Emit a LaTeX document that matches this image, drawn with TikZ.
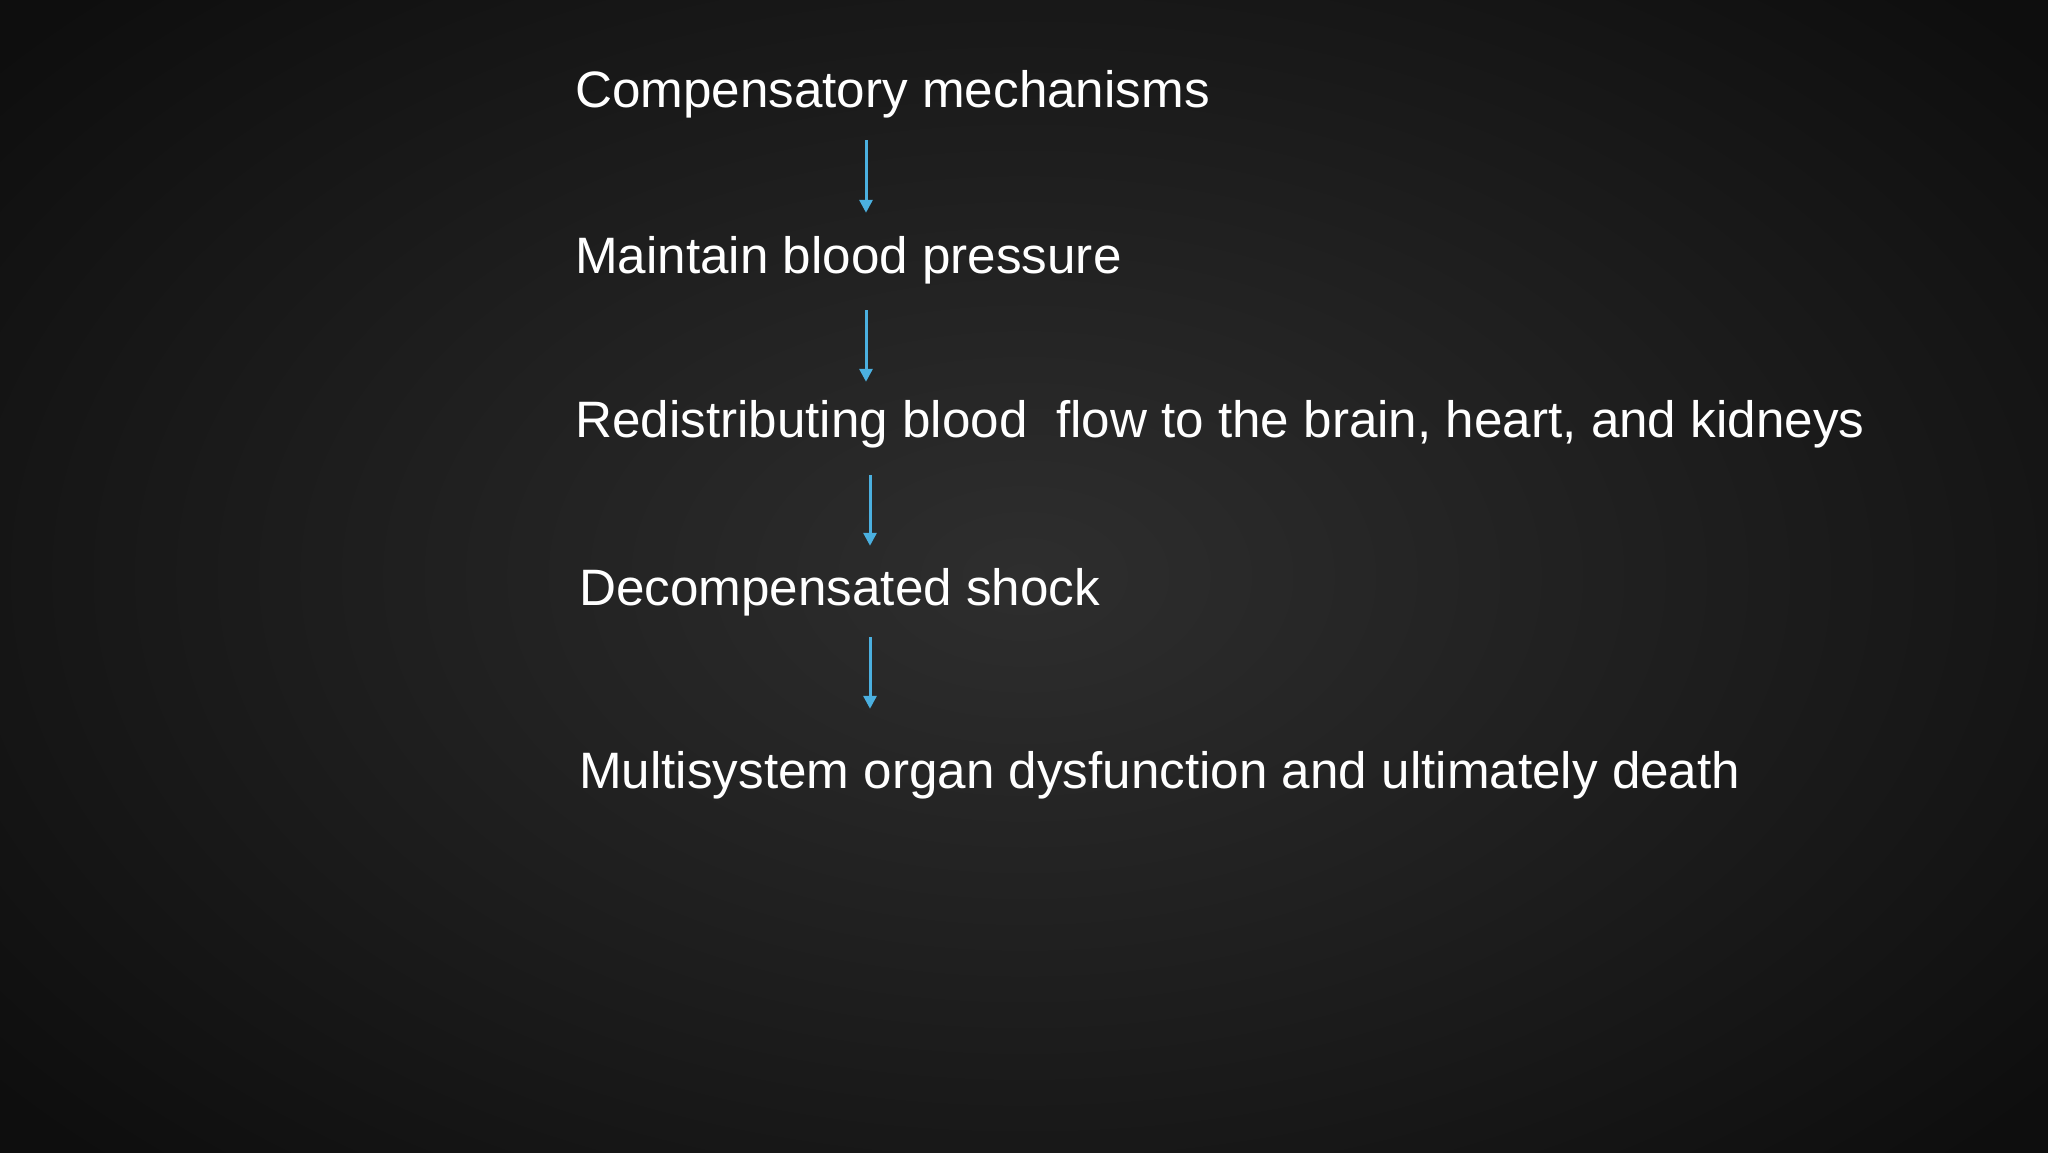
\documentclass[tikz,border=0pt]{standalone}
\usepackage{fontspec}
\setmainfont{Liberation Sans}
\usetikzlibrary{arrows.meta}
\definecolor{boardmid}{HTML}{2E2E2E}
\definecolor{boardedge}{HTML}{0E0E0E}
\definecolor{arrowblue}{HTML}{4BB0E0}
\tikzset{
  steptext/.style={anchor=base west, inner sep=0pt, text height=37pt, text depth=11pt,
    text=white, font=\fontsize{51.2}{60}\selectfont},
  flowarrow/.style={draw=arrowblue, line width=3pt, -{Triangle[width=13pt,length=13pt]}}
}
\begin{document}
\begin{tikzpicture}[x=1pt,y=-1pt]
\useasboundingbox (0,0) rectangle (2048,1152);
\fill[boardedge] (0,0) rectangle (2048,1152);
\shade[inner color=boardmid, outer color=boardedge] (-300,-250) rectangle (2348,1402);
\node[steptext] (L1) at (575,107) {Compensatory mechanisms};
\node[steptext] (L2) at (575,273) {Maintain blood pressure};
\node[steptext] (L3) at (575,437) {Redistributing blood\ \ flow to the brain, heart, and kidneys};
\node[steptext] (L4) at (579,605) {Decompensated shock};
\node[steptext] (L5) at (579,788) {Multisystem organ dysfunction and ultimately death};
\coordinate (ax1) at (866,0);
\coordinate (ax2) at (870,0);
\draw[flowarrow] ([yshift=-22pt]L1.south -| ax1) -- ([yshift=23pt]L2.north -| ax1);
\draw[flowarrow] ([yshift=-26pt]L2.south -| ax1) -- ([yshift=18pt]L3.north -| ax1);
\draw[flowarrow] ([yshift=-27pt]L3.south -| ax2) -- ([yshift=22pt]L4.north -| ax2);
\draw[flowarrow] ([yshift=-21pt]L4.south -| ax2) -- ([yshift=42pt]L5.north -| ax2);
\end{tikzpicture}
\end{document}
